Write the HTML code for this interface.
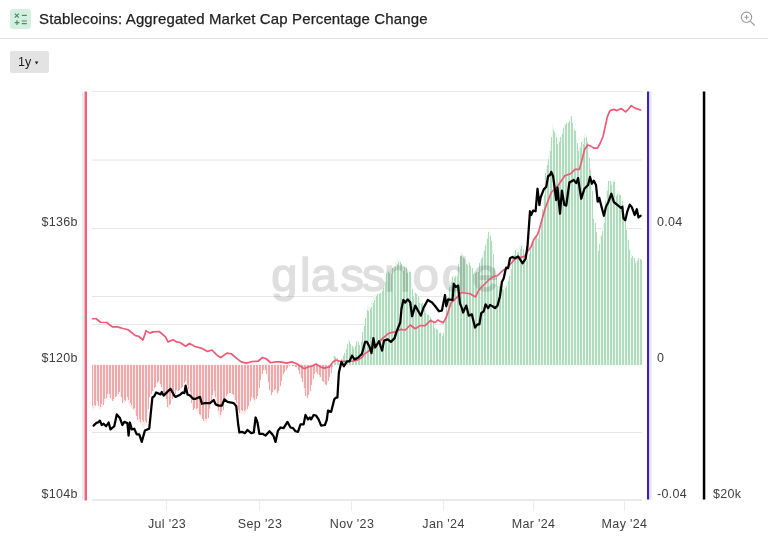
<!DOCTYPE html>
<html><head><meta charset="utf-8">
<style>
html,body{margin:0;padding:0;background:#fff;}
body{width:768px;height:551px;overflow:hidden;position:relative;font-family:"Liberation Sans",sans-serif;}
.ico{position:absolute;left:10px;top:9px;width:21px;height:20px;background:#d2efdf;border-radius:3px;}
.title{position:absolute;left:39.4px;top:10.3px;font-size:15px;line-height:18px;color:#222;white-space:nowrap;letter-spacing:0.13px;-webkit-text-stroke:0.25px #222;will-change:transform;}
.hr{position:absolute;left:0;top:38px;width:768px;height:1px;background:#e5e5e5;}
.btn{position:absolute;left:10px;top:51px;width:39px;height:22px;background:#e3e3e3;border-radius:2px;}
.btn span{position:absolute;left:8px;top:4px;font-size:12.5px;line-height:14px;color:#222;will-change:transform;}
svg{position:absolute;left:0;top:0;}
.lab{font-family:"Liberation Sans",sans-serif;font-size:12.5px;fill:#3e3e3e;letter-spacing:0.3px;}
.xl{letter-spacing:0.35px;}
</style></head><body>
<div class="ico"></div>
<div class="title">Stablecoins: Aggregated Market Cap Percentage Change</div>
<div class="hr"></div>
<div class="btn"><span>1y</span></div>
<svg width="768" height="551" viewBox="0 0 768 551">
  <!-- icon glyphs -->
  <g stroke="#4e8a64" stroke-width="1.2" fill="none">
    <path d="M14.8,13.6 l4,4 M18.8,13.6 l-4,4"/>
    <path d="M21.8,15.4 h5"/>
    <path d="M14.6,22.7 h4.8 M17,20.3 v4.8"/>
    <path d="M21.8,21 h5 M21.8,23.6 h5"/>
  </g>
  <!-- zoom icon -->
  <g stroke="#9a9a9a" stroke-width="1.1" fill="none">
    <circle cx="746.5" cy="17.3" r="5.2"/>
    <path d="M750.3,21.1 L754.8,25.5"/>
    <path d="M744.3,17.3 h4.4 M746.5,15.1 v4.4"/>
  </g>
  <!-- dropdown triangle -->
  <path d="M34.8,61.6 h3.6 l-1.8,2.8z" fill="#222"/>


  <!-- gridlines -->
  <g stroke="#e6e6e6" stroke-width="1">
    <path d="M92,91.5 H642 M92,160 H642 M92,228.5 H642 M92,296.5 H642 M92,324.5 H642 M92,432.5 H642"/>
  </g>
  <path d="M92,500 H642" stroke="#e3e3e3" stroke-width="1.5"/>
  <!-- ticks -->
  <g stroke="#ececec" stroke-width="1">
    <path d="M166.5,500 V511 M259.5,500 V511 M351.5,500 V511 M443.5,500 V511 M533.5,500 V511 M624.5,500 V511"/>
  </g>

  <!-- bars -->
  <path d="M92.0,364.5 L92.0,408.0 L93.6,409.5 L96.8,404.5 L99.9,410.0 L103.0,406.4 L105.5,400.8 L108.0,395.8 L110.5,399.5 L113.6,402.0 L116.8,395.8 L119.2,392.0 L121.8,402.0 L124.2,403.9 L126.8,398.2 L129.2,405.8 L131.8,408.2 L134.2,410.8 L136.8,420.8 L139.2,422.0 L141.8,425.8 L143.6,428.2 L146.8,423.2 L149.2,399.5 L151.8,393.2 L155.5,387.0 L158.0,380.8 L160.5,385.8 L163.0,392.0 L165.5,399.5 L168.0,408.2 L169.9,408.9 L171.8,399.5 L174.2,397.0 L176.8,392.0 L180.5,389.5 L182.5,387.0 L185.6,380.8 L187.5,387.0 L190.0,393.2 L192.5,409.5 L195.6,409.5 L198.8,414.5 L201.9,418.2 L205.0,423.2 L206.9,422.0 L209.4,414.5 L211.9,399.5 L213.8,392.0 L216.2,403.2 L218.8,417.0 L220.0,418.9 L222.5,412.0 L225.0,399.5 L227.5,394.5 L230.0,392.0 L232.5,394.5 L235.6,403.2 L238.8,412.0 L242.5,414.5 L245.0,414.5 L247.5,409.5 L250.0,403.2 L252.5,398.2 L255.0,403.2 L258.1,393.2 L261.2,377.0 L263.1,369.5 L266.2,372.0 L268.8,387.0 L271.2,395.8 L274.9,390.0 L278.0,395.6 L280.5,386.2 L283.0,375.0 L285.5,371.2 L288.0,367.5 L290.5,365.0 L296.8,367.5 L299.2,373.8 L302.4,382.5 L305.5,396.2 L308.0,397.5 L310.5,391.2 L313.0,380.0 L315.5,371.2 L318.0,375.0 L321.8,380.0 L324.9,385.6 L326.8,385.6 L329.2,378.8 L331.8,370.0 L333.0,365.0 L333.2,365.0 L333.2,364.5 Z" fill="#fcebeb"/>
  <path d="M333.2,364.5 L333.2,355.0 L333.5,355.0 L336.6,357.6 L339.8,362.0 L343.5,354.5 L346.0,349.5 L348.5,338.2 L351.0,343.9 L354.0,347.0 L357.2,339.5 L360.4,347.0 L362.9,329.5 L364.8,322.0 L367.2,305.8 L369.8,307.6 L372.2,299.5 L374.0,295.0 L377.2,293.8 L381.6,291.2 L384.1,283.0 L386.6,268.8 L388.5,270.0 L390.4,270.6 L392.9,267.5 L395.4,263.0 L397.9,258.0 L400.4,260.0 L402.9,267.5 L406.0,264.4 L408.5,271.2 L410.4,269.4 L411.4,278.3 L412.8,292.0 L416.9,293.4 L419.0,297.6 L421.0,300.3 L423.8,304.5 L426.5,311.4 L430.0,315.5 L432.8,322.4 L436.2,328.0 L439.7,330.7 L443.1,334.8 L445.2,314.0 L448.0,296.2 L450.5,280.0 L452.4,275.6 L456.1,276.2 L458.6,261.9 L460.5,251.2 L463.0,253.8 L465.5,258.8 L467.4,262.5 L469.2,260.0 L473.0,271.2 L476.1,273.8 L478.6,266.2 L480.5,258.1 L483.0,252.5 L486.1,241.2 L488.6,229.4 L490.5,233.8 L493.0,251.2 L495.0,272.0 L497.5,282.0 L500.0,284.5 L502.5,285.8 L505.0,285.8 L507.5,280.8 L510.0,272.0 L512.5,257.0 L515.6,247.0 L518.1,249.5 L521.2,240.8 L523.8,250.8 L526.2,257.0 L528.8,254.5 L531.2,244.5 L535.0,237.0 L538.0,236.0 L540.6,220.5 L543.1,205.5 L545.6,168.0 L546.9,164.9 L549.4,149.2 L551.2,139.2 L552.5,123.0 L554.4,130.5 L555.6,133.6 L557.5,138.6 L559.4,137.4 L561.2,136.1 L563.1,126.1 L565.6,123.0 L568.1,121.8 L570.0,116.1 L571.9,117.4 L573.8,128.0 L575.6,131.1 L578.1,149.2 L582.5,140.5 L585.0,132.4 L586.2,132.4 L587.5,141.8 L588.8,154.2 L590.0,165.5 L591.6,181.0 L592.9,200.0 L593.5,217.5 L595.4,223.8 L596.6,231.2 L598.5,251.2 L599.8,236.9 L602.2,233.1 L604.1,217.5 L606.0,191.2 L608.5,181.2 L611.6,181.9 L614.1,179.4 L616.0,191.2 L618.5,190.0 L621.0,196.2 L622.9,197.5 L624.1,212.5 L626.0,223.8 L628.5,242.5 L631.0,253.8 L633.5,256.2 L636.0,261.2 L638.5,257.5 L641.0,260.0 L641.0,364.5 Z" fill="#eef8f1"/>
  <path d="M92.0,364.5h1v41.3h-1zM93.5,364.5h1v40.7h-1zM95.0,364.5h1v41.1h-1zM96.5,364.5h1v36.7h-1zM98.0,364.5h1v41.5h-1zM99.5,364.5h1v42.8h-1zM101.0,364.5h1v39.6h-1zM102.5,364.5h1v40.3h-1zM104.0,364.5h1v34.8h-1zM105.5,364.5h1v33.6h-1zM107.0,364.5h1v29.3h-1zM108.5,364.5h1v29.8h-1zM110.0,364.5h1v33.3h-1zM111.5,364.5h1v36.2h-1zM113.0,364.5h1v34.2h-1zM114.5,364.5h1v32.2h-1zM116.0,364.5h1v31.0h-1zM117.5,364.5h1v29.8h-1zM119.0,364.5h1v27.6h-1zM120.5,364.5h1v32.7h-1zM122.0,364.5h1v38.7h-1zM123.5,364.5h1v35.5h-1zM125.0,364.5h1v36.7h-1zM126.5,364.5h1v32.2h-1zM128.0,364.5h1v35.8h-1zM129.5,364.5h1v38.4h-1zM131.0,364.5h1v40.8h-1zM132.5,364.5h1v44.9h-1zM134.0,364.5h1v43.5h-1zM135.5,364.5h1v51.6h-1zM137.0,364.5h1v55.3h-1zM138.5,364.5h1v54.2h-1zM140.0,364.5h1v57.3h-1zM141.5,364.5h1v55.9h-1zM143.0,364.5h1v57.7h-1zM144.5,364.5h1v56.9h-1zM146.0,364.5h1v58.1h-1zM147.5,364.5h1v44.6h-1zM149.0,364.5h1v32.2h-1zM150.5,364.5h1v29.7h-1zM152.0,364.5h1v26.2h-1zM153.5,364.5h1v23.4h-1zM155.0,364.5h1v22.4h-1zM156.5,364.5h1v18.4h-1zM158.0,364.5h1v16.0h-1zM159.5,364.5h1v19.6h-1zM161.0,364.5h1v22.9h-1zM162.5,364.5h1v27.6h-1zM164.0,364.5h1v31.6h-1zM165.5,364.5h1v34.3h-1zM167.0,364.5h1v42.7h-1zM168.5,364.5h1v40.3h-1zM170.0,364.5h1v39.3h-1zM171.5,364.5h1v34.4h-1zM173.0,364.5h1v30.5h-1zM174.5,364.5h1v29.7h-1zM176.0,364.5h1v25.3h-1zM177.5,364.5h1v26.1h-1zM179.0,364.5h1v25.5h-1zM180.5,364.5h1v23.6h-1zM182.0,364.5h1v22.6h-1zM183.5,364.5h1v18.3h-1zM185.0,364.5h1v16.2h-1zM186.5,364.5h1v20.3h-1zM188.0,364.5h1v24.2h-1zM189.5,364.5h1v27.4h-1zM191.0,364.5h1v38.5h-1zM192.5,364.5h1v45.6h-1zM194.0,364.5h1v43.1h-1zM195.5,364.5h1v44.7h-1zM197.0,364.5h1v43.6h-1zM198.5,364.5h1v49.5h-1zM200.0,364.5h1v50.9h-1zM201.5,364.5h1v54.9h-1zM203.0,364.5h1v56.3h-1zM204.5,364.5h1v54.9h-1zM206.0,364.5h1v54.7h-1zM207.5,364.5h1v53.1h-1zM209.0,364.5h1v44.6h-1zM210.5,364.5h1v38.6h-1zM212.0,364.5h1v30.0h-1zM213.5,364.5h1v26.2h-1zM215.0,364.5h1v32.1h-1zM216.5,364.5h1v42.5h-1zM218.0,364.5h1v46.8h-1zM219.5,364.5h1v50.6h-1zM221.0,364.5h1v47.6h-1zM222.5,364.5h1v45.2h-1zM224.0,364.5h1v34.1h-1zM225.5,364.5h1v31.5h-1zM227.0,364.5h1v29.0h-1zM228.5,364.5h1v28.7h-1zM230.0,364.5h1v28.0h-1zM231.5,364.5h1v29.6h-1zM233.0,364.5h1v30.6h-1zM234.5,364.5h1v35.2h-1zM236.0,364.5h1v38.9h-1zM237.5,364.5h1v45.7h-1zM239.0,364.5h1v48.7h-1zM240.5,364.5h1v45.0h-1zM242.0,364.5h1v46.1h-1zM243.5,364.5h1v46.4h-1zM245.0,364.5h1v45.5h-1zM246.5,364.5h1v44.1h-1zM248.0,364.5h1v41.3h-1zM249.5,364.5h1v36.1h-1zM251.0,364.5h1v32.2h-1zM252.5,364.5h1v33.0h-1zM254.0,364.5h1v35.6h-1zM255.5,364.5h1v34.4h-1zM257.0,364.5h1v31.1h-1zM258.5,364.5h1v23.7h-1zM260.0,364.5h1v15.7h-1zM261.5,364.5h1v9.2h-1zM263.0,364.5h1v5.2h-1zM264.5,364.5h1v5.9h-1zM266.0,364.5h1v9.1h-1zM267.5,364.5h1v17.9h-1zM269.0,364.5h1v25.2h-1zM270.5,364.5h1v30.2h-1zM272.0,364.5h1v27.7h-1zM273.5,364.5h1v25.5h-1zM275.0,364.5h1v24.3h-1zM276.5,364.5h1v28.6h-1zM278.0,364.5h1v26.5h-1zM279.5,364.5h1v21.4h-1zM281.0,364.5h1v16.0h-1zM282.5,364.5h1v9.7h-1zM284.0,364.5h1v7.8h-1zM285.5,364.5h1v5.4h-1zM287.0,364.5h1v3.4h-1zM288.5,364.5h1v1.8h-1zM291.5,364.5h1v1.0h-1zM293.0,364.5h1v1.5h-1zM294.5,364.5h1v2.3h-1zM296.0,364.5h1v2.8h-1zM297.5,364.5h1v5.6h-1zM299.0,364.5h1v9.3h-1zM300.5,364.5h1v13.3h-1zM302.0,364.5h1v17.4h-1zM303.5,364.5h1v23.0h-1zM305.0,364.5h1v31.8h-1zM306.5,364.5h1v33.1h-1zM308.0,364.5h1v30.4h-1zM309.5,364.5h1v26.8h-1zM311.0,364.5h1v20.3h-1zM312.5,364.5h1v14.1h-1zM314.0,364.5h1v9.6h-1zM315.5,364.5h1v7.0h-1zM317.0,364.5h1v9.7h-1zM318.5,364.5h1v10.9h-1zM320.0,364.5h1v12.5h-1zM321.5,364.5h1v16.2h-1zM323.0,364.5h1v17.9h-1zM324.5,364.5h1v19.4h-1zM326.0,364.5h1v20.4h-1zM327.5,364.5h1v16.0h-1zM329.0,364.5h1v12.9h-1zM330.5,364.5h1v8.3h-1zM332.0,364.5h1v2.5h-1z" fill="#eeaaaa" shape-rendering="crispEdges"/>
  <path d="M333.5,355.8h1v8.7h-1zM335.0,356.5h1v8.0h-1zM336.5,358.0h1v6.5h-1zM338.0,359.9h1v4.6h-1zM339.5,361.6h1v2.9h-1zM341.0,358.5h1v6.0h-1zM342.5,356.0h1v8.5h-1zM344.0,352.5h1v12.0h-1zM345.5,349.4h1v15.1h-1zM347.0,344.1h1v20.4h-1zM348.5,341.4h1v23.1h-1zM350.0,344.2h1v20.3h-1zM351.5,346.1h1v18.4h-1zM353.0,347.6h1v16.9h-1zM354.5,345.7h1v18.8h-1zM356.0,341.3h1v23.2h-1zM357.5,342.0h1v22.5h-1zM359.0,345.1h1v19.4h-1zM360.5,342.4h1v22.1h-1zM362.0,331.9h1v32.6h-1zM363.5,325.6h1v38.9h-1zM365.0,317.7h1v46.8h-1zM366.5,310.4h1v54.1h-1zM368.0,311.1h1v53.4h-1zM369.5,308.6h1v55.9h-1zM371.0,306.6h1v57.9h-1zM372.5,302.5h1v62.0h-1zM374.0,299.6h1v64.9h-1zM375.5,295.7h1v68.8h-1zM377.0,294.3h1v70.2h-1zM378.5,293.5h1v71.0h-1zM380.0,292.5h1v72.0h-1zM381.5,290.6h1v73.9h-1zM383.0,287.9h1v76.6h-1zM384.5,282.3h1v82.2h-1zM386.0,273.4h1v91.1h-1zM387.5,271.8h1v92.7h-1zM389.0,273.4h1v91.1h-1zM390.5,273.8h1v90.7h-1zM392.0,268.0h1v96.5h-1zM393.5,268.7h1v95.8h-1zM395.0,267.3h1v97.2h-1zM396.5,263.6h1v100.9h-1zM398.0,262.1h1v102.4h-1zM399.5,261.8h1v102.7h-1zM401.0,263.8h1v100.7h-1zM402.5,271.2h1v93.3h-1zM404.0,267.2h1v97.3h-1zM405.5,268.3h1v96.2h-1zM407.0,273.4h1v91.1h-1zM408.5,272.4h1v92.1h-1zM410.0,272.0h1v92.5h-1zM411.5,288.9h1v75.6h-1zM413.0,295.7h1v68.8h-1zM414.5,293.2h1v71.3h-1zM416.0,293.5h1v71.0h-1zM417.5,295.9h1v68.6h-1zM419.0,302.8h1v61.7h-1zM420.5,304.2h1v60.3h-1zM422.0,302.8h1v61.7h-1zM423.5,308.9h1v55.6h-1zM425.0,313.2h1v51.3h-1zM426.5,314.6h1v49.9h-1zM428.0,314.8h1v49.7h-1zM429.5,317.4h1v47.1h-1zM431.0,319.2h1v45.3h-1zM432.5,322.3h1v42.2h-1zM434.0,328.2h1v36.3h-1zM435.5,329.4h1v35.1h-1zM437.0,330.3h1v34.2h-1zM438.5,332.7h1v31.8h-1zM440.0,332.5h1v32.0h-1zM441.5,335.6h1v28.9h-1zM443.0,333.0h1v31.5h-1zM444.5,316.4h1v48.1h-1zM446.0,306.5h1v58.0h-1zM447.5,297.3h1v67.2h-1zM449.0,287.3h1v77.2h-1zM450.5,281.6h1v82.9h-1zM452.0,276.5h1v88.0h-1zM453.5,277.7h1v86.8h-1zM455.0,276.4h1v88.1h-1zM456.5,275.6h1v88.9h-1zM458.0,263.9h1v100.6h-1zM459.5,256.1h1v108.4h-1zM461.0,255.0h1v109.5h-1zM462.5,258.2h1v106.3h-1zM464.0,258.6h1v105.9h-1zM465.5,264.3h1v100.2h-1zM467.0,264.6h1v99.9h-1zM468.5,262.8h1v101.7h-1zM470.0,266.1h1v98.4h-1zM471.5,267.9h1v96.6h-1zM473.0,273.6h1v90.9h-1zM474.5,273.4h1v91.1h-1zM476.0,272.1h1v92.4h-1zM477.5,271.9h1v92.6h-1zM479.0,262.8h1v101.7h-1zM480.5,259.1h1v105.4h-1zM482.0,257.1h1v107.4h-1zM483.5,251.4h1v113.1h-1zM485.0,244.7h1v119.8h-1zM486.5,239.3h1v125.2h-1zM488.0,232.4h1v132.1h-1zM489.5,236.4h1v128.1h-1zM491.0,240.8h1v123.7h-1zM492.5,253.8h1v110.7h-1zM494.0,267.7h1v96.8h-1zM495.5,277.0h1v87.5h-1zM497.0,285.7h1v78.8h-1zM498.5,285.8h1v78.7h-1zM500.0,287.3h1v77.2h-1zM501.5,289.2h1v75.3h-1zM503.0,290.3h1v74.2h-1zM504.5,287.7h1v76.8h-1zM506.0,285.6h1v78.9h-1zM507.5,281.3h1v83.2h-1zM509.0,276.1h1v88.4h-1zM510.5,269.3h1v95.2h-1zM512.0,259.0h1v105.5h-1zM513.5,254.6h1v109.9h-1zM515.0,249.5h1v115.0h-1zM516.5,253.1h1v111.4h-1zM518.0,251.7h1v112.8h-1zM519.5,248.5h1v116.0h-1zM521.0,246.4h1v118.1h-1zM522.5,248.7h1v115.8h-1zM524.0,255.2h1v109.3h-1zM525.5,261.1h1v103.4h-1zM527.0,259.9h1v104.6h-1zM528.5,253.8h1v110.7h-1zM530.0,247.7h1v116.8h-1zM531.5,244.9h1v119.6h-1zM533.0,239.9h1v124.6h-1zM534.5,237.8h1v126.7h-1zM536.0,236.4h1v128.1h-1zM537.5,239.2h1v125.3h-1zM539.0,230.9h1v133.6h-1zM540.5,222.5h1v142.0h-1zM542.0,209.4h1v155.1h-1zM543.5,195.4h1v169.1h-1zM545.0,172.6h1v191.9h-1zM546.5,164.6h1v199.9h-1zM548.0,159.2h1v205.3h-1zM549.5,150.8h1v213.7h-1zM551.0,136.7h1v227.8h-1zM552.5,129.7h1v234.8h-1zM554.0,132.4h1v232.1h-1zM555.5,136.8h1v227.7h-1zM557.0,143.5h1v221.0h-1zM558.5,141.7h1v222.8h-1zM560.0,137.0h1v227.5h-1zM561.5,133.9h1v230.6h-1zM563.0,127.9h1v236.6h-1zM564.5,125.1h1v239.4h-1zM566.0,123.1h1v241.4h-1zM567.5,123.1h1v241.4h-1zM569.0,121.1h1v243.4h-1zM570.5,116.4h1v248.1h-1zM572.0,123.4h1v241.1h-1zM573.5,130.3h1v234.2h-1zM575.0,130.5h1v234.0h-1zM576.5,142.6h1v221.9h-1zM578.0,151.4h1v213.1h-1zM579.5,147.8h1v216.7h-1zM581.0,142.3h1v222.2h-1zM582.5,143.8h1v220.7h-1zM584.0,137.9h1v226.6h-1zM585.5,137.2h1v227.3h-1zM587.0,141.8h1v222.7h-1zM588.5,157.5h1v207.0h-1zM590.0,170.1h1v194.4h-1zM591.5,190.6h1v173.9h-1zM593.0,218.5h1v146.0h-1zM594.5,222.6h1v141.9h-1zM596.0,232.4h1v132.1h-1zM597.5,250.5h1v114.0h-1zM599.0,243.8h1v120.7h-1zM600.5,235.9h1v128.6h-1zM602.0,231.3h1v133.2h-1zM603.5,222.9h1v141.6h-1zM605.0,200.8h1v163.7h-1zM606.5,190.6h1v173.9h-1zM608.0,181.2h1v183.3h-1zM609.5,181.4h1v183.1h-1zM611.0,185.2h1v179.3h-1zM612.5,182.3h1v182.2h-1zM614.0,181.8h1v182.7h-1zM615.5,195.9h1v168.6h-1zM617.0,193.5h1v171.0h-1zM618.5,195.2h1v169.3h-1zM620.0,195.0h1v169.5h-1zM621.5,201.1h1v163.4h-1zM623.0,204.9h1v159.6h-1zM624.5,222.1h1v142.4h-1zM626.0,229.5h1v135.0h-1zM627.5,240.1h1v124.4h-1zM629.0,249.5h1v115.0h-1zM630.5,258.3h1v106.2h-1zM632.0,256.2h1v108.3h-1zM633.5,257.5h1v107.0h-1zM635.0,262.6h1v101.9h-1zM636.5,260.6h1v103.9h-1zM638.0,257.6h1v106.9h-1zM639.5,259.4h1v105.1h-1zM641.0,259.8h1v104.7h-1z" fill="#aedcbd" shape-rendering="crispEdges"/>

  <!-- watermark -->
  <g opacity="0.125"><text y="290.5" font-family="Liberation Sans" font-size="47" fill="#000" stroke="#000" stroke-width="1.6"><tspan x="271.2">g</tspan><tspan x="299.9">l</tspan><tspan x="310.9">a</tspan><tspan x="340.4">s</tspan><tspan x="362.1">s</tspan><tspan x="384.3">n</tspan><tspan x="412.7">o</tspan><tspan x="441.9">d</tspan><tspan x="472.3">e</tspan></text></g>

  <!-- lines -->
  <path d="M92.50,318.75 L96.10,318.75 L100.50,322.25 L106.75,322.50 L112.40,326.90 L117.40,326.90 L123.00,328.50 L128.00,329.75 L135.50,335.60 L138.60,336.25 L143.00,340.00 L146.10,330.60 L149.90,333.10 L153.00,331.90 L159.25,331.50 L165.50,336.90 L168.00,341.90 L173.00,339.75 L176.75,341.90 L180.00,342.50 L185.60,346.25 L189.40,343.50 L195.00,346.50 L201.25,348.10 L207.50,351.50 L211.90,350.00 L217.50,355.60 L220.60,357.50 L226.90,353.10 L231.25,353.75 L236.25,358.10 L241.25,361.90 L246.25,363.10 L252.50,361.50 L258.10,361.25 L262.50,357.50 L266.25,358.75 L270.60,362.75 L275.60,361.90 L280.50,361.90 L286.75,363.10 L291.75,361.90 L296.75,363.75 L300.50,366.25 L304.25,368.75 L308.00,366.90 L311.75,366.25 L316.10,364.00 L320.50,366.90 L324.25,368.10 L329.25,366.90 L333.00,361.90 L336.10,360.00 L339.90,361.25 L345.75,361.25 L352.00,361.25 L357.00,360.25 L362.00,357.50 L364.00,354.40 L370.25,350.00 L376.50,345.00 L382.75,338.10 L389.00,333.10 L395.25,331.90 L400.25,329.40 L405.25,330.00 L410.25,325.00 L415.25,328.75 L420.25,325.60 L425.25,325.60 L430.25,320.60 L435.25,322.50 L437.75,320.00 L443.10,322.75 L446.25,317.50 L451.25,302.50 L456.25,298.10 L461.25,292.50 L470.00,293.75 L475.60,296.90 L478.75,290.00 L483.75,285.00 L488.75,280.00 L493.75,276.40 L497.50,275.75 L502.50,270.75 L506.90,268.25 L511.25,263.25 L515.00,258.90 L520.00,257.60 L524.40,256.40 L527.50,251.40 L531.25,246.40 L533.75,239.50 L537.50,234.50 L539.40,229.00 L545.00,208.75 L551.25,192.50 L557.50,186.25 L565.00,175.60 L570.60,173.75 L575.00,169.40 L579.40,169.40 L582.50,158.00 L584.40,150.00 L587.50,145.00 L590.00,145.60 L593.75,148.10 L597.50,148.10 L600.00,143.75 L603.10,136.25 L605.00,127.50 L607.50,116.25 L610.00,110.60 L613.75,109.40 L616.90,110.60 L621.25,108.50 L625.60,111.90 L628.75,108.75 L631.25,105.60 L635.00,108.10 L640.60,110.00" fill="none" stroke="#ef5a78" stroke-width="1.7" stroke-linejoin="round" stroke-linecap="round"/>
  <path d="M93.60,425.60 L96.75,422.50 L98.00,422.50 L99.90,420.60 L101.75,425.00 L103.60,423.75 L106.10,426.25 L108.60,422.50 L110.50,429.40 L114.25,426.25 L116.75,414.40 L119.90,418.10 L122.40,425.00 L124.25,421.90 L127.40,423.10 L128.60,435.60 L129.90,422.50 L131.75,429.40 L134.25,428.75 L136.75,434.40 L139.25,434.40 L141.75,441.90 L144.90,430.60 L147.40,429.40 L149.25,428.75 L151.10,410.00 L152.40,397.50 L154.25,396.25 L156.10,392.50 L160.50,394.40 L161.75,391.90 L163.60,395.60 L166.10,393.10 L170.50,388.75 L174.25,395.60 L175.50,396.90 L180.50,394.40 L182.50,392.50 L184.40,393.10 L185.60,385.60 L187.50,394.40 L190.00,395.60 L193.10,398.75 L195.60,398.75 L200.00,396.90 L201.90,403.75 L205.00,403.10 L210.00,403.10 L213.75,400.00 L215.60,404.40 L218.75,405.60 L221.90,405.60 L224.40,399.40 L227.50,401.90 L233.75,403.10 L236.25,406.25 L238.10,423.75 L239.40,432.50 L241.90,431.90 L245.00,433.10 L247.50,430.00 L251.25,433.10 L253.75,432.50 L255.60,417.50 L257.50,422.50 L259.40,433.75 L262.50,433.75 L265.60,435.60 L269.40,431.25 L272.40,434.40 L273.60,436.25 L275.50,441.90 L278.00,430.60 L280.50,427.50 L283.60,428.10 L287.40,421.90 L290.50,427.50 L293.00,428.10 L295.50,431.25 L298.00,431.90 L300.50,424.40 L303.60,424.40 L305.50,415.00 L308.00,419.40 L309.90,417.50 L311.10,419.40 L313.60,415.00 L316.10,415.60 L318.60,419.40 L321.10,425.60 L324.90,425.00 L326.75,420.00 L328.00,410.60 L331.10,411.90 L334.25,399.40 L336.10,397.50 L337.40,397.50 L338.90,372.50 L341.40,361.90 L343.90,366.25 L347.00,361.25 L349.50,361.25 L352.00,355.60 L354.50,359.40 L358.25,357.50 L362.00,353.75 L365.10,341.90 L367.00,341.90 L369.60,346.90 L371.50,353.10 L373.40,338.10 L375.25,347.50 L379.00,341.25 L382.10,350.60 L384.00,340.60 L387.75,339.40 L390.90,341.90 L394.60,338.10 L396.50,331.90 L400.25,322.50 L401.50,308.75 L403.40,300.00 L405.25,302.50 L407.75,299.40 L410.25,302.50 L412.10,316.25 L415.25,305.60 L419.00,312.50 L420.90,315.60 L423.40,308.10 L427.75,300.00 L432.10,302.50 L435.25,306.25 L439.00,311.25 L441.90,310.60 L445.00,295.00 L446.25,306.25 L448.10,299.40 L452.50,300.00 L453.75,283.75 L455.60,286.90 L458.10,285.60 L460.00,303.50 L461.90,308.10 L463.10,312.50 L466.25,305.60 L468.75,315.60 L471.90,314.40 L475.00,327.50 L477.50,324.40 L479.40,324.40 L481.25,313.10 L483.75,311.25 L485.60,304.40 L488.10,308.10 L490.00,305.00 L492.50,306.25 L495.00,308.10 L497.50,305.60 L500.00,296.25 L501.90,282.00 L503.75,278.25 L505.60,269.50 L506.25,267.60 L508.10,268.25 L510.00,258.25 L512.50,257.00 L515.00,258.25 L518.10,256.40 L522.50,263.25 L525.60,258.90 L527.50,246.25 L528.75,228.75 L530.00,211.25 L531.25,215.00 L533.10,210.60 L535.60,211.25 L537.50,188.75 L539.40,205.00 L540.60,197.50 L543.75,189.40 L546.25,186.90 L548.10,176.25 L550.00,175.00 L551.25,171.90 L553.10,176.25 L556.25,200.00 L557.50,187.50 L560.00,213.75 L561.90,190.60 L564.40,205.00 L566.25,205.60 L569.40,182.50 L573.75,180.00 L576.25,183.10 L578.10,178.10 L581.25,198.75 L584.40,188.75 L588.10,185.00 L590.00,176.90 L591.90,183.75 L593.75,180.60 L596.00,185.00 L597.70,201.70 L599.30,197.90 L600.60,203.30 L603.90,215.80 L606.00,206.70 L608.50,201.70 L611.40,193.75 L613.90,202.10 L616.00,203.75 L618.50,205.80 L621.00,207.90 L622.25,206.70 L623.50,218.30 L625.20,220.40 L627.25,211.70 L629.75,204.60 L631.80,207.10 L634.75,215.00 L636.80,209.20 L638.50,217.50 L640.60,215.80" fill="none" stroke="#000" stroke-width="2.25" stroke-linejoin="round" stroke-linecap="round"/>

  <!-- axes -->
  <rect x="82" y="91.5" width="2" height="409" fill="#ececec"/>
  <rect x="84.5" y="91.5" width="2.5" height="409" fill="#ef6480"/>
  <rect x="647" y="91.5" width="2.3" height="408" fill="#3a1ec8"/>
  <rect x="649.4" y="91.5" width="2.3" height="408" fill="#e8e8e8"/>
  <rect x="702.8" y="91.5" width="2.5" height="408" fill="#000"/>

  <!-- labels -->
  <g class="lab">
    <text x="77.8" y="225.8" text-anchor="end">$136b</text>
    <text x="77.8" y="361.8" text-anchor="end">$120b</text>
    <text x="77.8" y="498.3" text-anchor="end">$104b</text>
    <text x="657" y="225.6">0.04</text>
    <text x="657" y="361.6">0</text>
    <text x="657" y="498.1">-0.04</text>
    <text x="713" y="498.1">$20k</text>
    <text x="167" y="528" text-anchor="middle" class="xl">Jul '23</text>
    <text x="260" y="528" text-anchor="middle" class="xl">Sep '23</text>
    <text x="352" y="528" text-anchor="middle" class="xl">Nov '23</text>
    <text x="443.5" y="528" text-anchor="middle" class="xl">Jan '24</text>
    <text x="533.5" y="528" text-anchor="middle" class="xl">Mar '24</text>
    <text x="624.5" y="528" text-anchor="middle" class="xl">May '24</text>
  </g>
</svg>
</body></html>
